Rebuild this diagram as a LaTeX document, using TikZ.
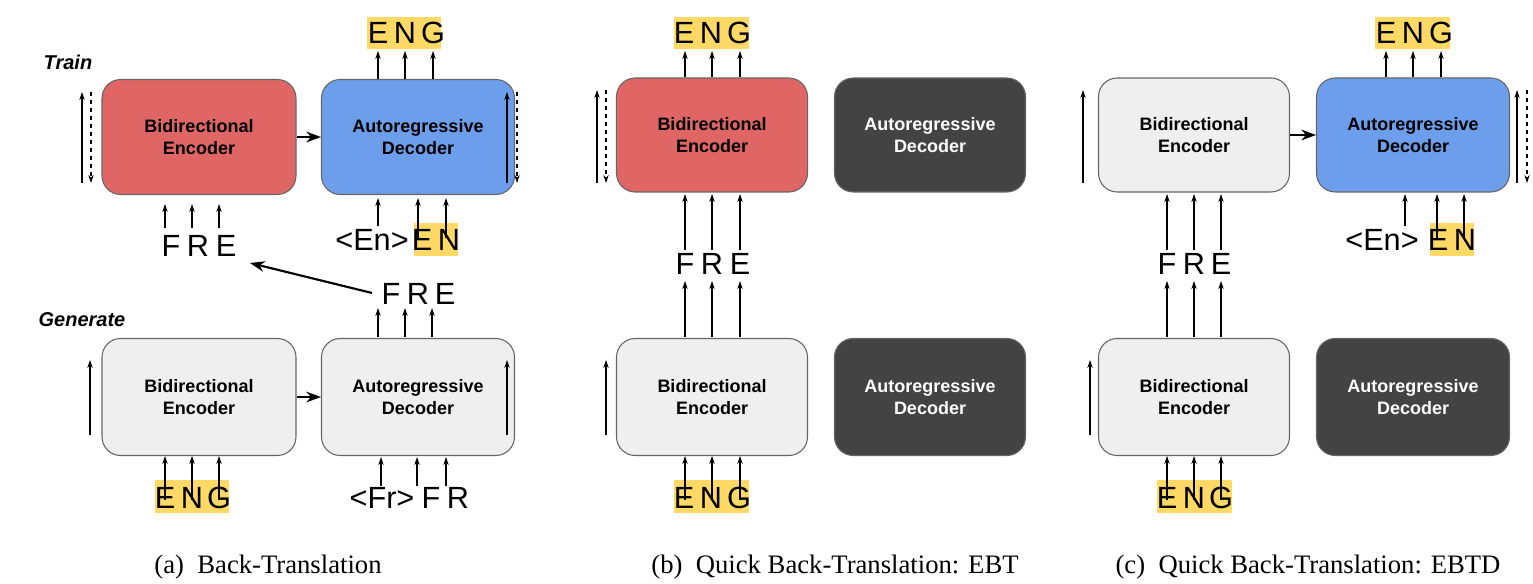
\documentclass[tikz,border=0pt]{standalone}
\usepackage{fontspec}
\setmainfont{Liberation Serif}
\newfontfamily\arial{Liberation Sans}
\usetikzlibrary{arrows.meta}
\definecolor{cred}{HTML}{E06666}
\definecolor{cblue}{HTML}{6D9EEB}
\definecolor{clight}{HTML}{EFEFEF}
\definecolor{cdark}{HTML}{434343}
\definecolor{cyel}{HTML}{FFD966}
\tikzset{
 blk/.style={draw=black!60, line width=0.8pt, rounded corners=14pt, align=center, font=\arial\bfseries\fontsize{13.5}{16}\selectfont},
 ltr/.style={font=\arial\fontsize{23}{24}\selectfont, inner sep=0pt, anchor=base},
 arr/.style={-{Stealth[length=6pt,width=4pt]}, line width=0.8pt},
 darr/.style={arr, dashed},
 big/.style={-{Stealth[length=11pt,width=8pt]}, line width=1.6pt},
 lab/.style={font=\arial\bfseries\itshape\fontsize{15}{16}\selectfont},
 captxt/.style={font=\fontsize{20}{22}\selectfont}
}
\begin{document}
\begin{tikzpicture}[x=0.75pt,y=-0.75pt]
\useasboundingbox (0,0) rectangle (1533,584);
% ===== (a) =====
\node[blk,fill=cred,minimum width=194*0.75pt,minimum height=115*0.75pt] (a1) at (199,137) {Bidirectional\\Encoder};
\node[blk,fill=cblue,minimum width=193*0.75pt,minimum height=115*0.75pt] (a2) at (418,137) {Autoregressive\\Decoder};
\node[blk,fill=clight,minimum width=194*0.75pt,minimum height=117*0.75pt] (a3) at (199,397) {Bidirectional\\Encoder};
\node[blk,fill=clight,minimum width=193*0.75pt,minimum height=117*0.75pt] (a4) at (418,397) {Autoregressive\\Decoder};
\draw[big] (a1) -- (a2);
\draw[big] (a3) -- (a4);
\node[lab] (trainl) at (68,62) {Train};
\node[lab] (genl) at (82,320) {Generate};
% top ENG
\fill[cyel] (367,17) rectangle (441,49);
\node[ltr] (ae1) at (378,44) {E}; \node[ltr] (ae2) at (405,44) {N}; \node[ltr] (ae3) at (433,44) {G};
\foreach \x in {378,405,433} \draw[arr] (\x,79) -- (\x,51);
% FRE under encoder
\node[ltr] (af1) at (171,257) {F}; \node[ltr] (af2) at (198,257) {R}; \node[ltr] (af3) at (226,257) {E};
\foreach \x in {165,192,219} \draw[arr] (\x,228) -- (\x,204);
% <En> E N
\fill[cyel] (414,223) rectangle (458,256);
\node[ltr] (aen) at (372,251) {<En>}; \node[ltr] (ae4) at (422,251) {E}; \node[ltr] (ae5) at (449,251) {N};
\draw[arr] (378,226) -- (378,198);
\draw[arr] (418,238) -- (418,198);
\draw[arr] (446,238) -- (446,198);
% gen FRE
\node[ltr] (ag1) at (391,305) {F}; \node[ltr] (ag2) at (418,305) {R}; \node[ltr] (ag3) at (445,305) {E};
\foreach \x in {378,405,432} \draw[arr] (\x,337) -- (\x,308);
\coordinate (gs) at (372,293);
\coordinate (ge) at (250,263);
\draw[big] (gs) -- (ge);
% gen ENG
\fill[cyel] (155,480) rectangle (229,513);
\node[ltr] (ab1) at (165,508) {E}; \node[ltr] (ab2) at (192,508) {N}; \node[ltr] (ab3) at (219,508) {G};
\foreach \x in {165,192,219} \draw[arr] (\x,500) -- (\x,456);
% <Fr> F R
\node[ltr] (afr) at (382,508) {<Fr>}; \node[ltr] (afa) at (431,508) {F}; \node[ltr] (afb) at (458,508) {R};
\draw[arr] (381,486) -- (381,457); \draw[arr] (417,486) -- (417,457); \draw[arr] (446,486) -- (446,457);
% side arrows
\draw[arr] (82,183) -- (82,92); \draw[darr] (91,92) -- (91,183);
\draw[arr] (507,183) -- (507,92); \draw[darr] (517,92) -- (517,183);
\draw[arr] (90,435) -- (90,360);
\draw[arr] (507,435) -- (507,360);
\node[captxt] (capa) at (268,567) {(a)\ \ Back-Translation};
% ===== (b) =====
\node[blk,fill=cred,minimum width=191*0.75pt,minimum height=114*0.75pt] (b1) at (712,135) {Bidirectional\\Encoder};
\node[blk,fill=cdark,text=white,minimum width=191*0.75pt,minimum height=114*0.75pt] (b2) at (930,135) {Autoregressive\\Decoder};
\node[blk,fill=clight,minimum width=191*0.75pt,minimum height=117*0.75pt] (b3) at (712,397) {Bidirectional\\Encoder};
\node[blk,fill=cdark,text=white,minimum width=191*0.75pt,minimum height=117*0.75pt] (b4) at (930,397) {Autoregressive\\Decoder};
\fill[cyel] (674,17) rectangle (749,49);
\node[ltr] (be1) at (684,44) {E}; \node[ltr] (be2) at (711,44) {N}; \node[ltr] (be3) at (739,44) {G};
\foreach \x in {685,712,740} \draw[arr] (\x,77) -- (\x,51);
\node[ltr] (bf1) at (685,275) {F}; \node[ltr] (bf2) at (712,275) {R}; \node[ltr] (bf3) at (740,275) {E};
\foreach \x in {685,712,740} {\draw[arr] (\x,250) -- (\x,194); \draw[arr] (\x,337) -- (\x,281);}
\fill[cyel] (674,480) rectangle (749,513);
\node[ltr] (bb1) at (684,508) {E}; \node[ltr] (bb2) at (711,508) {N}; \node[ltr] (bb3) at (739,508) {G};
\foreach \x in {685,712,740} \draw[arr] (\x,500) -- (\x,456);
\draw[arr] (597,183) -- (597,90); \draw[darr] (606,90) -- (606,183);
\draw[arr] (606,435) -- (606,360);
\node[captxt] (capb) at (835,567) {(b)\ \ Quick Back-Translation: EBT};
% ===== (c) =====
\node[blk,fill=clight,minimum width=191*0.75pt,minimum height=114*0.75pt] (c1) at (1194,135) {Bidirectional\\Encoder};
\node[blk,fill=cblue,minimum width=193*0.75pt,minimum height=114*0.75pt] (c2) at (1413,135) {Autoregressive\\Decoder};
\node[blk,fill=clight,minimum width=191*0.75pt,minimum height=117*0.75pt] (c3) at (1194,397) {Bidirectional\\Encoder};
\node[blk,fill=cdark,text=white,minimum width=193*0.75pt,minimum height=117*0.75pt] (c4) at (1413,397) {Autoregressive\\Decoder};
\draw[big] (c1) -- (c2);
\fill[cyel] (1375,17) rectangle (1450,49);
\node[ltr] (ce1) at (1386,44) {E}; \node[ltr] (ce2) at (1413,44) {N}; \node[ltr] (ce3) at (1441,44) {G};
\foreach \x in {1386,1413,1441} \draw[arr] (\x,77) -- (\x,51);
\fill[cyel] (1430,223) rectangle (1474,256);
\node[ltr] (cen) at (1382,251) {<En>}; \node[ltr] (ce4) at (1438,251) {E}; \node[ltr] (ce5) at (1465,251) {N};
\draw[arr] (1405,226) -- (1405,194);
\draw[arr] (1437,238) -- (1437,194);
\draw[arr] (1464,238) -- (1464,194);
\node[ltr] (cf1) at (1167,275) {F}; \node[ltr] (cf2) at (1194,275) {R}; \node[ltr] (cf3) at (1221,275) {E};
\foreach \x in {1167,1194,1221} {\draw[arr] (\x,250) -- (\x,194); \draw[arr] (\x,337) -- (\x,281);}
\fill[cyel] (1157,480) rectangle (1232,513);
\node[ltr] (cb1) at (1167,508) {E}; \node[ltr] (cb2) at (1194,508) {N}; \node[ltr] (cb3) at (1221,508) {G};
\foreach \x in {1167,1194,1221} \draw[arr] (\x,500) -- (\x,456);
\draw[arr] (1083,183) -- (1083,90);
\draw[arr] (1517,183) -- (1517,90); \draw[darr] (1527,90) -- (1527,183);
\draw[arr] (1090,435) -- (1090,360);
\node[captxt] (capc) at (1308,567) {(c)\ \ Quick Back-Translation: EBTD};
\end{tikzpicture}
\end{document}
